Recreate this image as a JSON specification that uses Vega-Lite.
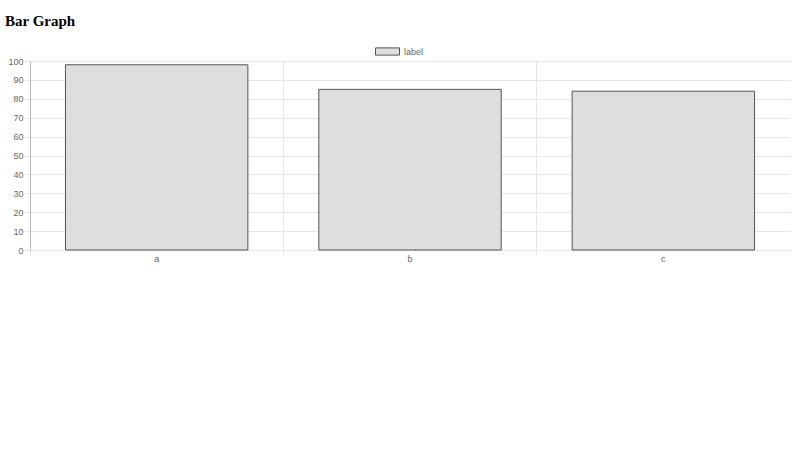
{
  "$schema": "https://vega.github.io/schema/vega-lite/v6.json",
  "width": 760,
  "height": 189,
  "autosize": "none",
  "padding": {"left": 30, "top": 61, "right": 10, "bottom": 200},
  "background": "white",
  "title": {
    "text": "Bar Graph",
    "anchor": "start",
    "frame": "group",
    "font": "Liberation Serif",
    "fontSize": 15,
    "fontWeight": "bold",
    "color": "#000000",
    "dx": -25,
    "dy": 14,
    "offset": 12,
    "baseline": "alphabetic"
  },
  "data": {
    "values": [
      {"category": "a", "value": 98, "series": "label"},
      {"category": "b", "value": 85, "series": "label"},
      {"category": "c", "value": 84, "series": "label"}
    ]
  },
  "mark": {"type": "bar", "width": {"band": 0.72}, "stroke": "#555555", "strokeWidth": 1, "fillOpacity": 1},
  "encoding": {
    "x": {
      "field": "category",
      "type": "nominal",
      "title": null,
      "scale": {"paddingInner": 0, "paddingOuter": 0},
      "axis": {
        "labelAngle": 0,
        "bandPosition": 0,
        "grid": true,
        "gridColor": "#e6e6e6",
        "tickColor": "#e6e6e6",
        "tickSize": 6,
        "domain": false,
        "labelFont": "Liberation Sans",
        "labelFontSize": 9,
        "labelColor": "#666666",
        "labelPadding": -2
      }
    },
    "y": {
      "field": "value",
      "type": "quantitative",
      "title": null,
      "scale": {"domain": [0, 100], "nice": false},
      "axis": {
        "values": [0, 10, 20, 30, 40, 50, 60, 70, 80, 90, 100],
        "grid": true,
        "gridColor": "#e6e6e6",
        "tickColor": "#e6e6e6",
        "tickSize": 6,
        "domainColor": "#bbbbbb",
        "labelFont": "Liberation Sans",
        "labelFontSize": 9,
        "labelColor": "#666666",
        "labelPadding": 1
      }
    },
    "color": {
      "field": "series",
      "type": "nominal",
      "scale": {"range": ["#dedede"]},
      "legend": {
        "title": null,
        "orient": "none",
        "legendX": 345,
        "legendY": -22,
        "padding": 0,
        "symbolType": "M-1,-0.3H1V0.3H-1Z",
        "symbolSize": 576,
        "symbolStrokeColor": "#555555",
        "symbolStrokeWidth": 1,
        "symbolOpacity": 1,
        "labelFont": "Liberation Sans",
        "labelFontSize": 9,
        "labelColor": "#666666",
        "labelOffset": 4
      }
    }
  },
  "config": {
    "view": {"stroke": null}
  }
}
